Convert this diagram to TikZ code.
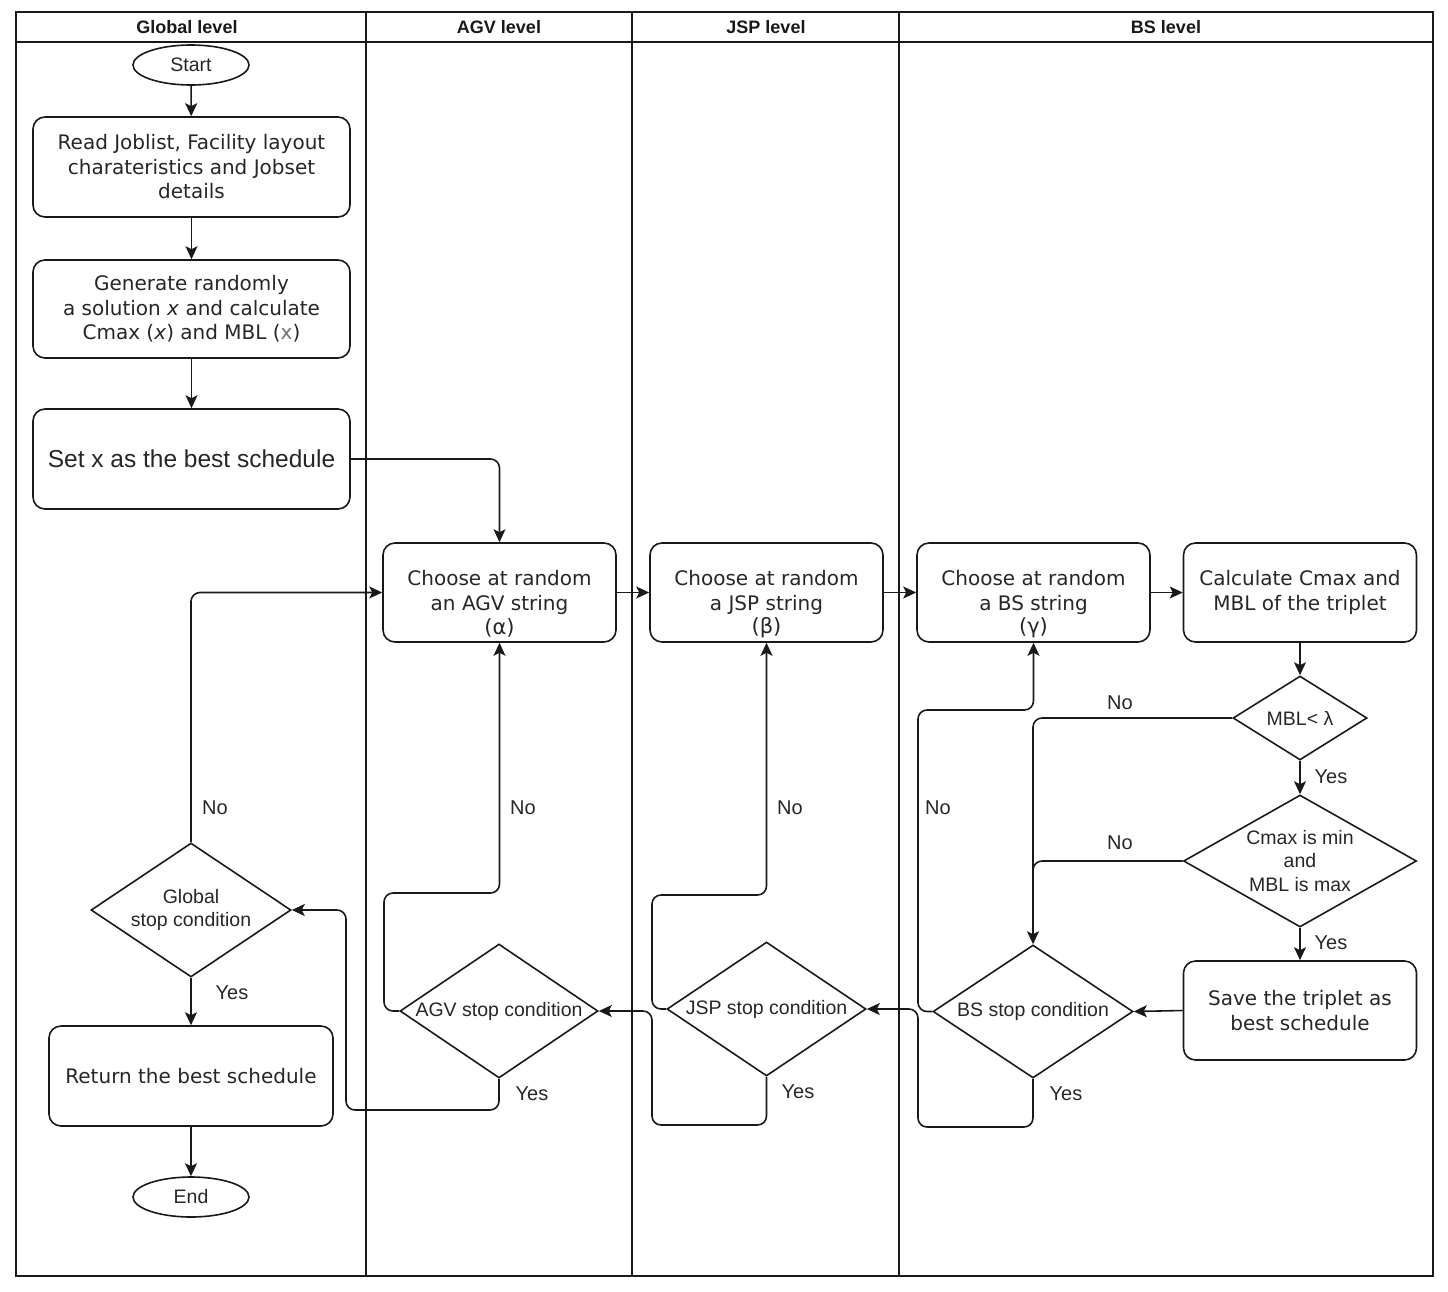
\documentclass[tikz,border=0pt]{standalone}
\usepackage{fontspec}
\setmainfont{Liberation Sans}
\newfontfamily\verd{DejaVu Sans}
\usetikzlibrary{shapes.geometric,arrows.meta}
\begin{document}
\begin{tikzpicture}[x=1pt,y=-1pt,
  ln/.style={line width=1.6pt, draw=black!90},
  arr/.style={ln, rounded corners=9pt, -{Stealth[length=13pt,width=12pt,inset=3pt]}},
  conn/.style={ln, rounded corners=9pt},
  box/.style={draw=black!90, line width=1.6pt, rounded corners=12pt, align=center, inner sep=0pt,
    text=black!85, font=\verd\fontsize{20}{24.5}\selectfont},
  btext/.style={text=black!85, inner sep=0pt, font=\verd\fontsize{21}{24}\selectfont},
  term/.style={ellipse, draw=black!90, line width=1.6pt, inner sep=0pt, minimum width=116pt,
    minimum height=40pt, text=black!85, font=\fontsize{19.5}{22}\selectfont},
  dia/.style={diamond, draw=black!90, line width=1.6pt, inner sep=0pt},
  dtext/.style={align=center, text=black!85, inner sep=0pt, font=\fontsize{19.5}{23.5}\selectfont},
  lbl/.style={text=black!85, inner sep=0pt, font=\fontsize{20}{22}\selectfont},
  hdr/.style={text=black!90, inner sep=0pt, font=\bfseries\fontsize{18}{22}\selectfont}
]
\useasboundingbox (0,0) rectangle (1448,1291);
% swimlanes
\draw[ln] (16,12) rectangle (1433,1276);
\draw[ln] (16,42) -- (1433,42);
\draw[ln] (366,12) -- (366,1276);
\draw[ln] (632,12) -- (632,1276);
\draw[ln] (899,12) -- (899,1276);
\node[hdr] (h1) at (187,27) {Global level};
\node[hdr] (h2) at (499,27) {AGV level};
\node[hdr] (h3) at (766,27) {JSP level};
\node[hdr] (h4) at (1166,27) {BS level};

% global lane
\node[term] (start) at (191,65) {Start};
\node[box, minimum width=317pt, minimum height=100pt] (read) at (191.5,167)
  {Read Joblist, Facility layout\\charateristics and Jobset\\details};
\node[box, minimum width=317pt, minimum height=98pt] (gen) at (191.5,309)
  {Generate randomly\\a solution \textit{x} and calculate\\Cmax (\textit{x}) and MBL ({\color{black!55}x})};
\node[box, minimum width=317pt, minimum height=100pt, font=\fontsize{24.5}{28}\selectfont] (setx) at (191.5,459)
  {Set x as the best schedule};
\node[dia, minimum width=200pt, minimum height=134pt,
  label={[dtext]center:{Global\\stop condition}}] (gdia) at (191,910) {};
\node[box, minimum width=284pt, minimum height=100pt] (ret) at (191,1076) {Return the best schedule};
\node[term] (endn) at (191,1197) {End};

% choose boxes
\node[box, minimum width=233pt, minimum height=99pt] (agvb) at (499.5,592.5)
  {Choose at random\\an AGV string};
\node[btext] (agva) at (499.5,628) {(α)};
\node[box, minimum width=233pt, minimum height=99pt] (jspb) at (766.5,592.5)
  {Choose at random\\a JSP string};
\node[btext] (jspa) at (766.5,628) {(β)};
\node[box, minimum width=233pt, minimum height=99pt] (bsb) at (1033.5,592.5)
  {Choose at random\\a BS string};
\node[btext] (bsa) at (1033.5,628) {(γ)};
\node[box, minimum width=233pt, minimum height=99pt] (calc) at (1300,592.5)
  {Calculate Cmax and\\MBL of the triplet};

% BS decisions
\node[dia, minimum width=134pt, minimum height=84pt,
  label={[dtext]center:{MBL< λ}}] (mbl) at (1300,718) {};
\node[dia, minimum width=233pt, minimum height=132pt,
  label={[dtext]center:{Cmax is min\\and\\MBL is max}}] (cmax) at (1300,861) {};
\node[box, minimum width=233pt, minimum height=99pt] (save) at (1300,1010.5)
  {Save the triplet as\\best schedule};

% stop diamonds
\node[dia, minimum width=198pt, minimum height=134pt,
  label={[dtext]center:{AGV stop condition}}] (agvd) at (499,1011) {};
\node[dia, minimum width=199pt, minimum height=134pt,
  label={[dtext]center:{JSP stop condition}}] (jspd) at (766.5,1009) {};
\node[dia, minimum width=200pt, minimum height=133pt,
  label={[dtext]center:{BS stop condition}}] (bsd) at (1033,1011.5) {};

% waypoints
\coordinate (bsN) at (918,710);
\coordinate (bsY) at (918,1127);
\coordinate (jspN) at (652,895);
\coordinate (jspY) at (652,1125);
\coordinate (agvN) at (384,893);
\coordinate (agvY) at (346,1110);

% connectors
\draw[arr] (start) -- (read);
\draw[arr] (read) -- (gen);
\draw[arr] (gen) -- (setx);
\draw[arr] (setx.east) -| (agvb.north);
\draw[arr] (agvb) -- (jspb);
\draw[arr] (jspb) -- (bsb);
\draw[arr] (bsb) -- (calc);
\draw[arr] (calc) -- (mbl);
\draw[arr] (mbl) -- (cmax);
\draw[arr] (cmax) -- (save);
\draw[arr] (mbl.west) -| (bsd.north);
\draw[conn] (cmax.west) -| ([yshift=40pt]bsd.north);
\draw[arr] (save.west) -- (bsd.east);
\draw[arr] (bsd.west) -| (bsN) -| (bsb.south);
\draw[arr] (bsd.south) |- (bsY) |- (jspd.east);
\draw[arr] (jspd.west) -| (jspN) -| (jspb.south);
\draw[arr] (jspd.south) |- (jspY) |- (agvd.east);
\draw[arr] (agvd.west) -| (agvN) -| (agvb.south);
\draw[arr] (agvd.south) |- (agvY) |- (gdia.east);
\draw[arr] (gdia.north) |- (agvb.west);
\draw[arr] (gdia) -- (ret);
\draw[arr] (ret) -- (endn);

% labels
\node[lbl] (l1) at (215,808) {No};
\node[lbl] (l2) at (232,993) {Yes};
\node[lbl] (l3) at (523,808) {No};
\node[lbl] (l4) at (532,1094) {Yes};
\node[lbl] (l5) at (790,808) {No};
\node[lbl] (l6) at (798,1092) {Yes};
\node[lbl] (l7) at (938,808) {No};
\node[lbl] (l8) at (1066,1094) {Yes};
\node[lbl] (l9) at (1120,703) {No};
\node[lbl] (l10) at (1331,777) {Yes};
\node[lbl] (l11) at (1120,843) {No};
\node[lbl] (l12) at (1331,943) {Yes};
\end{tikzpicture}
\end{document}
